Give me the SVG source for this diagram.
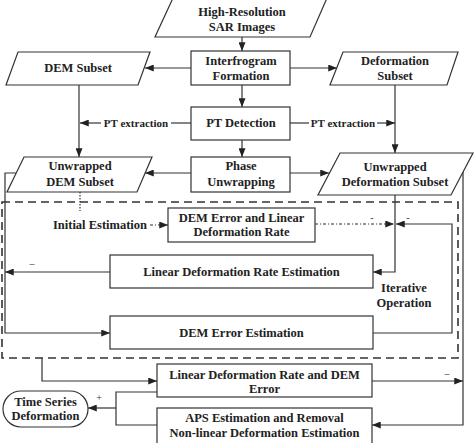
<svg xmlns="http://www.w3.org/2000/svg" width="474" height="443" viewBox="0 0 474 443">
<defs>
<marker id="ah" viewBox="0 0 10 8" refX="10" refY="4" markerWidth="9" markerHeight="7" markerUnits="userSpaceOnUse" orient="auto">
<path d="M0,0 L10,4 L0,8 Z" fill="#222"/>
</marker>
</defs>
<style>
.shape{fill:#fff;stroke:#333;stroke-width:1.2}
.t{font-family:"Liberation Serif","Times New Roman",serif;font-weight:bold;font-size:12.5px;fill:#222;text-anchor:middle}
.s{font-size:11px}
.ln{fill:none;stroke:#333;stroke-width:1.2}
.arr{marker-end:url(#ah)}
.dash{fill:none;stroke:#333;stroke-width:1.6;stroke-dasharray:8,5}
.dd{stroke-dasharray:3,2,1,2}
.dot{stroke-dasharray:1.5,1.5}
.m{font-family:"Liberation Serif",serif;font-size:10px;fill:#333;text-anchor:middle}
</style>
<rect width="474" height="443" fill="#fff"/>
<g id="iter-region">
<rect class="dash" x="2" y="202" width="456" height="156"/>
</g>
<g id="connectors">
<line class="ln arr" x1="242" y1="37" x2="242" y2="51"/>
<line class="ln arr" x1="191" y1="68" x2="145" y2="68"/>
<line class="ln arr" x1="290" y1="68" x2="337" y2="68"/>
<line class="ln arr" x1="242" y1="85" x2="242" y2="107"/>
<line class="ln arr" x1="79" y1="85" x2="79" y2="157"/>
<line class="ln arr" x1="395" y1="85" x2="395" y2="153"/>
<line class="ln" x1="191" y1="123" x2="171" y2="123"/>
<line class="ln arr" x1="101" y1="123" x2="80" y2="123"/>
<line class="ln" x1="290" y1="123" x2="309" y2="123"/>
<line class="ln arr" x1="377" y1="123" x2="395" y2="123"/>
<line class="ln arr" x1="242" y1="140" x2="242" y2="157"/>
<line class="ln arr" x1="191" y1="173" x2="145" y2="173"/>
<line class="ln arr" x1="290" y1="173" x2="329" y2="173"/>
<polyline class="ln arr" points="16,173 5,173 5,333 110,333"/>
<line class="ln arr" x1="110" y1="272" x2="5" y2="272"/>
<line class="ln dot" x1="80" y1="192" x2="80" y2="211"/>
<line class="ln dd arr" x1="150" y1="225" x2="168" y2="225"/>
<line class="ln dd arr" x1="315" y1="224" x2="394" y2="224"/>
<polyline class="ln arr" points="395,195 395,272 373,272"/>
<polyline class="ln arr" points="373,333 452,333 452,224 396,224"/>
<polyline class="ln arr" points="463,172 463,425 372,425"/>
<line class="ln arr" x1="372" y1="381" x2="463" y2="381"/>
<polyline class="ln arr" points="42,358 42,381 157,381"/>
<polyline class="ln" points="157,392 116,392 116,425 157,425"/>
<line class="ln arr" x1="116" y1="408" x2="88" y2="408"/>
</g>
<g id="n-sar">
<polygon class="shape" points="173,-2 327,-2 310,37 155,37"/>
<text class="t" x="242" y="16">High-Resolution</text>
<text class="t" x="242" y="31">SAR Images</text>
</g>
<g id="n-ifg">
<rect class="shape" x="191" y="51" width="99" height="34"/>
<text class="t" x="241" y="65">Interfrogram</text>
<text class="t" x="241" y="80">Formation</text>
</g>
<g id="n-dem">
<polygon class="shape" points="18,52 150,52 138,85 6,85"/>
<text class="t" x="78" y="72">DEM Subset</text>
</g>
<g id="n-def">
<polygon class="shape" points="343,52 458,52 447,85 330,85"/>
<text class="t" x="395" y="65">Deformation</text>
<text class="t" x="395" y="80">Subset</text>
</g>
<g id="n-pt">
<rect class="shape" x="191" y="107" width="99" height="33"/>
<text class="t" x="241" y="127">PT Detection</text>
</g>
<g id="lbl-pt-left"><text class="t s" x="136" y="127">PT extraction</text></g>
<g id="lbl-pt-right"><text class="t s" x="343" y="127">PT extraction</text></g>
<g id="n-phase">
<rect class="shape" x="191" y="157" width="99" height="35"/>
<text class="t" x="241" y="170">Phase</text>
<text class="t" x="241" y="186">Unwrapping</text>
</g>
<g id="n-udem">
<polygon class="shape" points="24,157 152,157 137,192 7,192"/>
<text class="t" x="80" y="170">Unwrapped</text>
<text class="t" x="80" y="186">DEM Subset</text>
</g>
<g id="n-udef">
<polygon class="shape" points="340,153 473,153 451,195 318,195"/>
<text class="t" x="395" y="171">Unwrapped</text>
<text class="t" x="395" y="186">Deformation Subset</text>
</g>
<g id="lbl-init"><text class="t" x="100" y="229">Initial Estimation</text></g>
<g id="n-demlin">
<rect class="shape" x="168" y="208" width="147" height="34"/>
<text class="t" x="241.5" y="222">DEM Error and Linear</text>
<text class="t" x="241.5" y="236">Deformation Rate</text>
</g>
<g id="n-ldr">
<rect class="shape" x="110" y="255" width="263" height="33"/>
<text class="t" x="241.5" y="276">Linear Deformation Rate Estimation</text>
</g>
<g id="lbl-iter">
<text class="t" x="404" y="292">Iterative</text>
<text class="t" x="404" y="307">Operation</text>
</g>
<g id="n-demerr">
<rect class="shape" x="110" y="316" width="263" height="33"/>
<text class="t" x="241.5" y="337">DEM Error Estimation</text>
</g>
<g id="n-ldrdem">
<rect class="shape" x="157" y="364" width="215" height="33"/>
<text class="t" x="264.5" y="379">Linear Deformation Rate and DEM</text>
<text class="t" x="264.5" y="393">Error</text>
</g>
<g id="n-aps">
<rect class="shape" x="157" y="408" width="215" height="42"/>
<text class="t" x="264.5" y="422">APS Estimation and Removal</text>
<text class="t" x="264.5" y="437">Non-linear Deformation Estimation</text>
</g>
<g id="n-ts">
<rect class="shape" x="3" y="391" width="85" height="36" rx="18" ry="18"/>
<text class="t" x="45.5" y="406">Time Series</text>
<text class="t" x="45.5" y="420">Deformation</text>
</g>
<g id="signs">
<text class="m" x="32" y="267">–</text>
<text class="m" x="372" y="221">-</text>
<text class="m" x="408" y="221">-</text>
<text class="m" x="447" y="377">–</text>
<text class="m" x="99" y="401">+</text>
</g>
</svg>
